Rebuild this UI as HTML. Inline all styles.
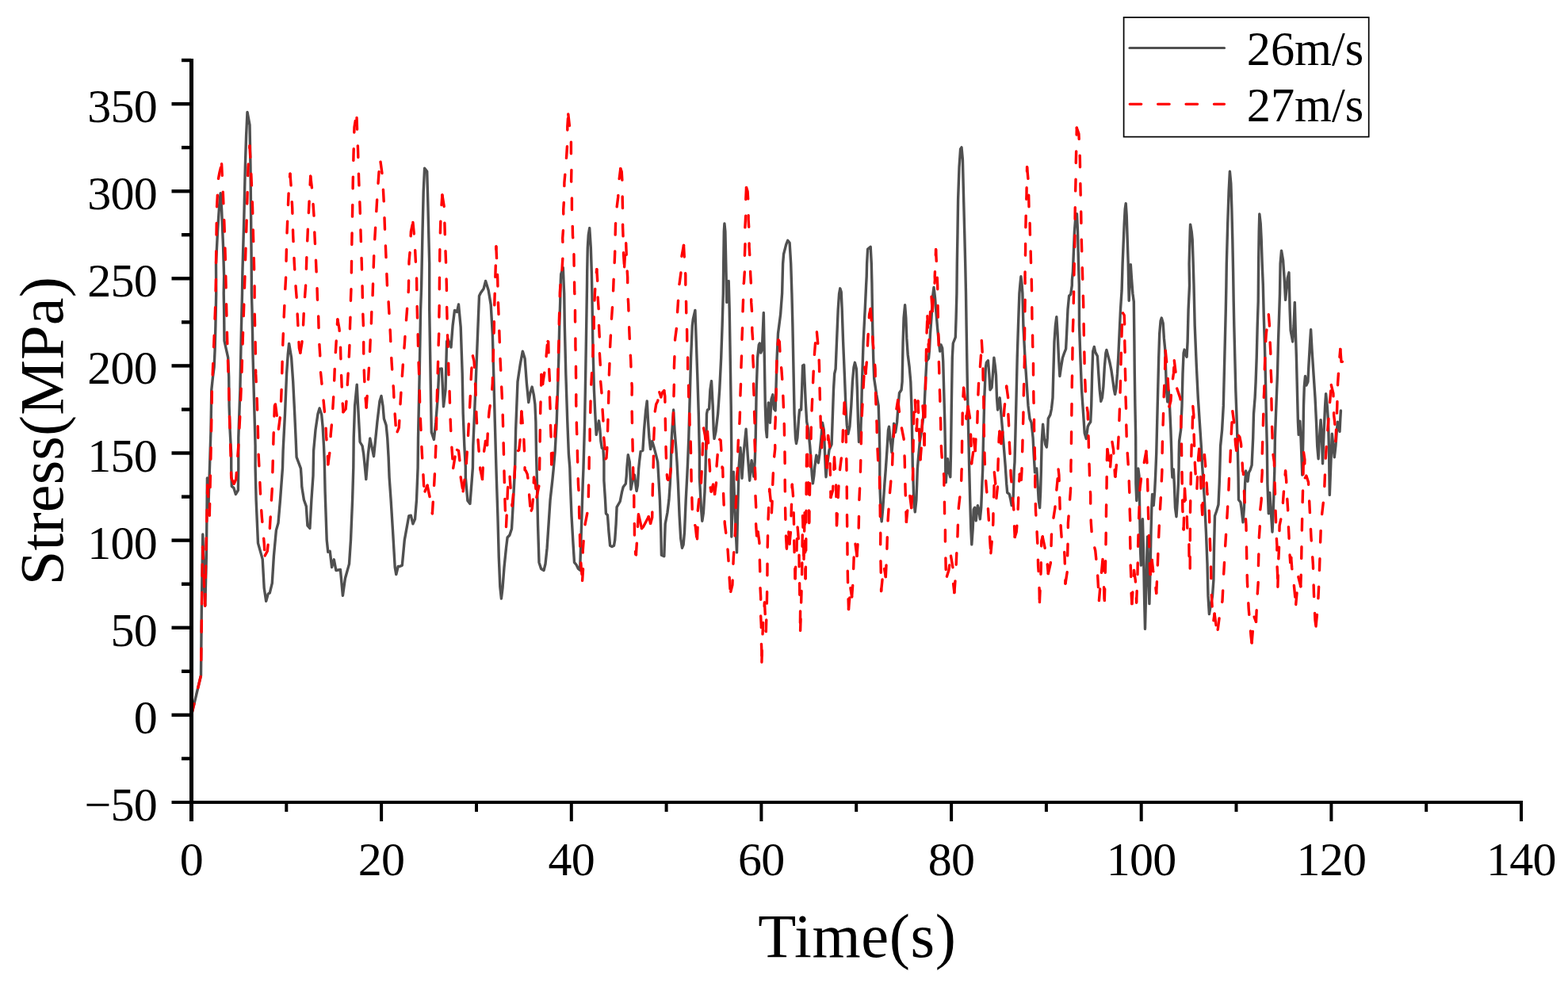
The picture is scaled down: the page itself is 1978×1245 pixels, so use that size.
<!DOCTYPE html>
<html lang="en"><head><meta charset="utf-8"><title>Stress vs Time</title>
<style>
html,body{margin:0;padding:0;background:#fff;}
body{width:1978px;height:1245px;overflow:hidden;}
svg{display:block;}
text{font-family:"Liberation Serif",serif;fill:#000;}
.tk{font-size:60px;letter-spacing:-0.8px;}
.ttl{font-size:78.6px;letter-spacing:0.6px;}
.ttl2{font-size:78.4px;letter-spacing:0.15px;}
.lg{font-size:60.3px;}
</style></head><body>
<svg width="1978" height="1245" viewBox="0 0 1978 1245">
<rect x="0" y="0" width="1978" height="1245" fill="#fff"/>
<polyline fill="none" stroke="#505050" stroke-width="3.4" stroke-linejoin="round" stroke-linecap="round" points="241.5,902.0 253.5,852.0 254.3,770.0 255.8,674.0 258.8,764.0 260.4,700.0 261.4,603.0 262.9,640.0 266.0,542.3 266.8,491.7 268.5,475.5 270.1,463.3 271.1,441.1 271.9,410.7 272.7,370.2 272.5,332.7 274.5,292.2 276.6,259.8 278.2,243.6 279.6,263.8 281.6,312.4 282.6,348.8 282.2,370.2 282.6,390.5 283.0,430.0 287.7,451.2 288.7,475.5 289.1,511.9 290.1,542.3 291.7,572.7 291.7,590.0 292.3,613.3 294.8,615.3 297.4,623.4 300.4,618.3 300.8,590.0 300.8,552.4 302.9,491.7 304.5,410.7 305.5,370.2 305.9,342.8 307.9,271.9 309.3,211.2 310.6,170.7 312.0,141.4 315.0,157.6 316.0,211.2 316.6,271.9 317.2,332.7 317.4,370.2 318.0,390.5 319.1,451.2 320.7,511.9 322.1,562.5 322.1,590.0 323.1,630.5 325.5,685.1 331.2,705.4 333.2,741.8 335.7,758.4 338.3,748.9 340.3,747.9 343.3,735.7 345.4,701.3 348.4,668.9 351.0,659.8 353.5,630.5 356.5,590.0 357.1,568.6 359.5,522.0 361.6,471.4 363.2,447.2 364.6,433.4 367.6,451.2 369.7,481.6 371.7,522.0 373.1,552.4 374.1,576.7 379.4,590.9 380.2,602.1 380.8,614.3 383.4,630.5 386.3,638.6 387.9,662.9 390.9,666.5 392.9,630.5 395.0,600.1 395.6,568.6 398.0,542.3 401.0,522.0 403.1,515.0 405.7,523.1 407.1,538.2 408.5,562.5 409.3,582.8 409.7,602.1 410.1,620.4 412.2,681.1 413.8,696.3 416.2,695.3 418.6,715.5 421.3,705.8 423.9,719.5 429.4,718.5 432.4,751.3 435.4,729.7 440.5,711.4 442.5,681.1 444.6,630.5 445.8,590.0 446.2,552.4 447.6,511.9 450.2,485.2 451.6,511.9 452.7,532.2 454.1,557.5 457.1,562.5 458.7,572.7 460.7,592.9 461.8,604.6 464.4,572.7 466.8,553.0 471.5,575.7 475.9,532.2 479.0,505.9 481.0,499.4 483.0,511.9 484.4,528.1 487.1,536.2 488.7,552.4 490.1,576.7 491.1,602.1 493.1,630.5 495.6,671.0 498.2,715.5 499.8,724.6 502.2,714.5 504.3,714.5 507.3,713.1 510.3,681.1 515.8,650.7 518.4,650.3 520.9,660.8 523.5,654.8 525.5,630.5 527.1,590.0 527.5,552.4 529.2,471.4 530.6,390.5 531.6,362.0 533.0,292.2 534.2,241.6 535.6,212.2 538.7,216.3 539.7,251.7 540.7,292.2 541.7,332.7 541.7,390.5 542.7,451.2 543.7,511.9 544.3,545.3 547.4,554.4 549.8,532.2 552.2,501.8 553.9,465.4 557.3,465.0 559.5,512.9 562.0,491.7 563.6,431.0 565.0,427.9 569.0,438.0 571.1,410.7 573.5,391.5 576.5,393.5 578.5,384.0 581.2,412.7 583.2,471.4 584.2,522.0 585.8,562.5 587.3,588.8 587.3,602.1 589.9,631.5 592.9,635.5 594.9,610.2 596.4,590.0 596.8,562.5 599.4,501.8 601.4,451.2 603.4,400.6 604.5,373.3 606.5,369.2 610.1,364.2 612.6,354.5 616.2,366.2 619.2,384.4 621.3,420.8 622.7,471.4 624.3,532.2 625.9,588.8 626.3,602.1 627.9,650.7 629.3,703.3 630.8,739.8 632.4,755.0 634.0,741.8 636.0,715.5 638.5,691.2 640.1,678.0 642.9,675.0 645.5,666.9 647.0,640.6 648.6,610.2 649.6,590.0 650.6,542.3 653.0,481.6 656.3,459.3 659.3,443.1 662.1,452.2 664.4,483.6 666.8,507.5 668.8,495.7 671.2,488.0 673.3,497.8 674.9,509.9 675.9,532.2 676.5,572.7 677.5,610.2 678.5,660.8 680.0,709.4 682.6,717.5 686.0,719.5 688.0,711.4 690.1,691.2 692.1,660.8 694.1,630.5 696.8,606.2 698.2,592.0 700.2,568.6 702.2,532.2 703.6,491.7 704.8,451.2 705.7,410.7 706.7,380.4 707.3,354.0 707.7,345.8 710.3,337.7 711.3,362.0 711.7,370.2 712.3,410.7 713.8,471.4 715.8,532.2 717.4,572.7 718.8,590.0 719.4,610.2 721.0,650.7 723.1,687.2 724.5,709.4 727.1,712.5 729.5,717.5 731.6,719.1 732.6,691.2 733.6,660.8 735.2,610.2 736.0,590.0 737.6,532.2 738.7,471.4 739.7,410.7 740.5,360.1 740.7,342.8 741.3,312.4 742.3,296.2 743.7,287.7 745.3,312.4 746.3,342.8 746.9,370.2 747.8,431.0 749.4,491.7 750.8,522.0 752.2,548.4 755.5,530.8 756.9,542.3 757.9,556.5 759.3,565.2 760.9,565.6 761.9,582.8 761.9,606.2 763.5,630.5 764.4,647.7 766.4,649.7 768.0,671.0 769.6,688.2 772.0,689.6 774.5,688.2 775.7,681.1 777.1,660.8 778.1,639.6 782.2,632.5 784.6,620.4 786.2,614.3 789.3,610.2 790.3,600.1 790.9,588.8 792.3,573.7 794.3,582.8 794.9,596.1 795.9,617.3 798.0,606.2 800.4,599.1 801.8,610.2 803.0,619.3 804.4,612.3 805.6,592.0 806.5,582.8 808.1,569.6 810.9,568.2 812.5,542.3 814.6,518.0 816.2,505.9 817.6,532.2 819.0,552.4 820.6,566.6 822.7,556.5 825.1,564.6 827.7,574.7 829.7,582.8 830.7,600.1 832.4,630.5 833.8,671.0 834.4,700.3 837.8,701.7 839.2,660.8 841.9,646.7 843.9,630.5 845.3,610.2 846.1,592.0 846.5,578.7 847.3,552.4 848.6,532.2 849.6,517.0 851.0,542.3 852.6,562.5 854.0,582.8 855.4,610.2 857.1,650.7 858.7,679.1 860.5,691.2 862.1,687.2 863.5,671.0 865.2,630.5 866.8,600.1 867.6,582.8 868.8,552.4 870.2,501.8 871.6,451.2 873.3,410.7 874.3,402.6 876.9,391.5 878.3,431.0 879.7,471.4 881.3,522.0 882.4,572.7 882.4,602.1 883.4,620.4 884.4,640.6 885.8,657.2 887.4,646.7 889.0,620.4 889.9,596.1 890.5,572.7 890.9,552.4 891.5,522.0 892.5,517.0 894.5,516.0 895.9,491.7 897.5,480.6 899.2,511.9 900.2,542.3 901.0,553.4 903.0,544.3 905.6,522.0 907.7,491.7 909.7,451.2 911.1,410.7 912.3,370.2 912.7,332.7 913.3,292.2 913.9,282.0 914.9,292.2 915.8,332.7 916.8,381.4 919.2,354.5 920.2,390.5 921.2,451.2 922.2,511.9 922.8,572.7 922.2,620.4 922.8,677.0 923.9,640.6 925.3,595.1 926.9,640.6 929.5,696.9 930.5,650.7 932.0,590.0 933.0,576.7 934.0,564.6 935.2,582.8 936.0,603.2 938.0,572.7 941.1,541.3 943.1,572.7 945.7,606.2 948.1,580.7 949.8,592.9 950.8,601.1 952.2,582.8 953.2,552.4 954.2,491.7 955.6,451.2 957.3,435.0 958.3,433.0 959.7,445.1 961.3,441.1 963.3,394.5 964.3,451.2 965.3,511.9 966.4,542.3 967.4,551.4 968.4,522.0 969.4,507.9 971.4,533.2 973.0,503.8 974.9,497.8 976.5,516.0 978.1,518.0 978.9,491.7 980.1,451.2 981.5,420.8 984.6,396.6 986.6,370.2 987.6,332.7 988.6,320.5 991.7,308.4 993.7,303.3 996.1,306.3 997.7,332.7 998.9,370.2 999.9,410.7 1001.1,471.4 1002.1,522.0 1003.5,552.4 1004.5,559.5 1005.9,552.4 1007.6,528.1 1008.6,517.0 1010.6,517.0 1011.6,491.7 1012.6,461.3 1014.2,460.3 1015.1,481.6 1016.3,507.9 1017.7,532.2 1019.7,542.3 1021.7,562.5 1023.2,582.8 1024.4,600.1 1025.4,609.8 1026.8,600.1 1027.8,588.8 1029.8,574.3 1032.3,583.8 1033.9,572.7 1035.9,552.4 1037.5,533.2 1039.3,542.3 1040.6,572.7 1041.4,592.0 1042.0,601.7 1043.0,590.0 1044.0,582.8 1046.0,567.6 1049.1,560.5 1050.1,532.2 1051.5,491.7 1052.7,471.4 1054.1,465.4 1055.5,431.0 1057.2,390.5 1058.6,370.2 1059.8,363.8 1061.2,368.2 1062.2,390.5 1063.6,431.0 1065.3,471.4 1066.9,511.9 1068.3,536.2 1069.9,547.3 1071.9,538.2 1073.8,511.9 1075.4,481.6 1077.0,463.3 1078.4,457.3 1080.4,465.4 1081.4,491.7 1082.5,532.2 1083.5,557.5 1085.5,552.4 1086.5,522.0 1087.5,481.6 1089.1,431.0 1091.2,390.5 1092.6,360.1 1093.2,348.8 1093.6,332.7 1094.6,314.4 1098.2,311.4 1099.3,332.7 1099.9,356.9 1100.1,370.2 1100.7,410.7 1101.7,451.2 1102.7,477.5 1105.7,497.8 1108.2,511.9 1109.2,542.3 1109.8,572.7 1109.8,600.1 1110.2,620.4 1111.4,650.7 1112.2,657.8 1113.8,640.6 1115.9,610.2 1117.3,592.0 1118.9,568.6 1120.5,542.3 1121.5,538.2 1122.9,552.4 1125.0,570.6 1126.6,552.4 1127.6,534.2 1129.6,545.3 1131.6,532.2 1133.1,511.9 1134.5,495.7 1137.1,491.7 1138.1,481.6 1139.1,431.0 1140.1,400.6 1141.6,384.8 1142.8,400.6 1143.8,426.9 1145.2,447.2 1147.2,463.3 1148.8,481.6 1149.9,511.9 1150.7,552.4 1151.3,588.8 1151.9,600.1 1152.7,630.5 1154.3,645.7 1155.9,630.5 1156.7,610.2 1157.3,592.0 1158.4,578.7 1160.4,556.5 1162.4,544.3 1164.0,532.2 1166.1,511.9 1167.5,481.6 1168.9,455.3 1171.5,452.2 1172.5,441.1 1173.5,420.8 1175.0,400.6 1176.6,374.3 1178.0,362.5 1179.6,376.3 1181.0,394.5 1182.7,414.8 1184.3,431.0 1185.7,443.1 1187.1,435.0 1188.7,439.1 1189.7,455.3 1190.7,491.7 1191.8,532.2 1192.6,572.7 1192.8,596.1 1193.2,608.6 1195.4,578.7 1197.2,596.1 1198.8,601.7 1199.5,572.7 1200.3,511.9 1201.3,451.2 1202.3,433.0 1205.3,425.3 1206.1,400.6 1206.9,370.2 1207.3,332.7 1208.0,292.2 1208.6,251.7 1210.0,211.2 1211.6,187.9 1213.0,185.9 1214.4,201.1 1215.4,241.6 1216.7,292.2 1217.7,332.7 1218.5,370.2 1219.1,410.7 1220.1,471.4 1221.1,522.0 1222.1,562.5 1222.7,592.0 1223.7,630.5 1224.8,666.9 1225.8,686.8 1227.2,666.9 1228.2,642.6 1229.6,640.2 1231.2,656.8 1233.3,637.6 1234.9,642.6 1236.3,654.8 1237.7,640.6 1238.9,610.2 1239.7,592.0 1240.5,552.4 1241.8,501.8 1243.4,463.3 1244.4,457.3 1246.4,454.8 1247.8,471.4 1249.0,491.7 1251.1,488.7 1252.5,471.4 1253.9,451.2 1255.5,463.3 1256.5,473.5 1257.5,501.8 1258.6,517.0 1260.0,507.9 1261.2,501.8 1262.6,518.0 1264.6,542.3 1266.7,568.6 1268.3,588.8 1269.7,610.2 1270.7,621.4 1273.3,623.4 1274.7,629.5 1276.2,637.6 1278.2,626.4 1279.2,594.0 1280.0,582.8 1280.8,552.4 1281.8,511.9 1283.2,451.2 1284.5,410.7 1285.9,370.2 1286.9,359.0 1287.9,348.8 1289.1,359.0 1289.9,370.2 1290.9,410.7 1293.0,451.2 1295.0,481.6 1297.0,511.9 1299.0,528.1 1301.1,533.2 1303.1,552.4 1304.1,572.7 1305.5,595.9 1307.7,590.9 1308.8,606.2 1310.2,630.5 1311.6,640.6 1312.6,620.4 1313.4,592.0 1314.2,556.5 1315.6,535.2 1317.3,552.4 1318.7,560.5 1320.3,564.1 1321.3,552.4 1322.3,528.1 1324.9,523.1 1326.4,516.0 1328.0,501.8 1328.8,471.4 1330.0,431.0 1331.4,410.7 1332.8,399.6 1334.1,420.8 1335.5,451.2 1336.9,474.5 1338.5,463.3 1340.5,451.2 1342.6,445.1 1344.6,440.1 1345.6,420.8 1347.0,390.5 1348.6,373.3 1350.7,371.3 1352.3,360.1 1352.4,352.9 1353.4,342.8 1355.4,292.2 1357.0,271.9 1358.5,269.9 1359.5,292.2 1360.5,332.7 1361.3,359.0 1361.5,410.7 1362.9,451.2 1364.5,491.7 1366.6,522.0 1368.2,546.3 1370.2,553.4 1372.2,538.2 1373.6,535.2 1375.7,532.2 1376.7,511.9 1377.7,471.4 1378.7,443.1 1380.3,437.4 1381.7,444.1 1384.4,449.2 1385.8,471.4 1387.2,491.7 1388.8,506.3 1390.4,501.8 1391.9,487.6 1393.3,463.3 1394.9,445.1 1395.9,441.5 1397.9,449.2 1400.0,457.3 1402.0,467.4 1404.0,481.6 1405.4,491.7 1406.6,497.4 1408.0,489.7 1409.5,471.4 1410.7,451.2 1412.1,420.8 1413.5,390.5 1415.1,366.2 1416.1,332.7 1418.2,282.0 1419.2,263.8 1420.2,256.7 1421.2,271.9 1422.2,302.3 1423.2,332.7 1423.8,362.0 1424.2,379.3 1425.3,352.9 1426.3,333.7 1427.3,348.8 1428.9,370.2 1430.3,380.4 1430.9,431.0 1431.3,471.4 1431.9,511.9 1432.7,552.4 1432.9,610.2 1433.8,631.5 1435.0,606.2 1435.8,590.9 1437.0,600.1 1437.8,650.7 1438.6,695.3 1439.4,713.1 1440.6,675.0 1441.4,654.8 1442.5,695.3 1443.5,751.9 1444.5,793.4 1445.5,751.9 1446.5,711.4 1447.5,677.0 1448.7,721.6 1449.9,761.6 1451.2,711.4 1452.0,671.0 1452.8,640.6 1453.6,623.4 1455.2,637.6 1456.6,620.4 1457.6,600.1 1458.7,572.7 1459.7,532.2 1460.7,491.7 1461.7,451.2 1462.7,420.8 1464.1,404.7 1465.3,401.0 1467.2,407.7 1468.4,426.9 1469.8,441.1 1470.8,471.4 1471.4,491.7 1472.8,506.9 1474.2,492.7 1475.5,511.9 1476.9,542.3 1477.9,572.7 1478.3,592.0 1478.9,602.1 1480.3,591.9 1481.3,610.2 1482.5,640.6 1484.0,651.7 1485.4,630.5 1486.4,610.2 1487.0,592.0 1487.2,572.7 1487.6,556.5 1489.6,542.3 1491.0,511.9 1492.0,471.4 1493.1,445.1 1494.1,441.1 1495.7,447.2 1497.1,450.2 1498.1,431.0 1499.1,390.5 1500.5,360.1 1500.1,332.7 1501.2,292.2 1501.6,283.1 1503.2,292.2 1504.2,302.3 1505.2,332.7 1506.0,359.0 1507.2,410.7 1509.3,461.3 1511.3,501.8 1513.3,532.2 1515.3,562.5 1516.7,588.8 1517.6,602.1 1519.4,630.5 1521.4,671.0 1523.0,711.4 1524.0,751.9 1525.4,774.6 1527.5,762.0 1529.5,751.9 1530.9,731.7 1531.5,691.2 1532.5,650.7 1534.6,644.7 1537.0,636.6 1538.2,610.2 1538.8,592.0 1539.6,562.5 1541.6,542.3 1543.3,511.9 1544.3,471.4 1545.3,431.0 1546.3,390.5 1546.9,360.1 1547.3,332.7 1548.7,282.0 1550.1,241.6 1551.4,216.3 1552.8,231.4 1553.8,261.8 1554.8,302.3 1555.6,342.8 1556.2,380.4 1556.8,410.7 1557.8,451.2 1558.8,491.7 1559.9,522.0 1560.9,552.4 1561.7,582.8 1562.1,602.1 1562.5,630.5 1564.9,633.5 1565.9,640.6 1568.0,658.8 1569.4,640.6 1570.6,610.2 1571.6,594.0 1574.0,607.2 1575.4,596.1 1577.1,593.0 1579.1,586.8 1580.7,552.4 1581.5,522.0 1583.1,501.8 1584.1,481.6 1585.2,451.2 1586.2,410.7 1587.2,380.4 1587.6,332.7 1588.2,292.2 1588.8,269.9 1590.2,282.0 1591.2,302.3 1592.2,332.7 1593.3,359.0 1594.3,400.6 1595.3,431.0 1596.3,471.4 1597.3,522.0 1598.3,562.5 1598.9,610.2 1600.3,647.7 1601.8,621.4 1603.0,640.6 1605.0,671.0 1606.0,650.7 1607.0,620.4 1607.8,594.0 1608.4,552.4 1609.9,511.9 1611.5,471.4 1612.5,431.0 1613.5,400.6 1614.5,370.2 1615.1,332.7 1616.5,316.1 1618.6,328.6 1620.0,348.8 1621.6,378.3 1624.2,350.9 1626.0,343.8 1627.1,390.5 1628.1,416.8 1630.7,431.0 1632.1,410.7 1633.3,381.4 1634.1,410.7 1635.4,451.2 1636.4,491.7 1637.4,532.2 1638.2,548.4 1639.8,531.2 1641.0,552.4 1641.8,572.7 1642.8,599.1 1643.9,552.4 1644.5,511.9 1645.3,487.6 1646.5,474.5 1647.9,486.0 1649.9,481.6 1650.9,461.3 1652.4,435.0 1653.6,415.8 1655.0,441.1 1657.0,471.4 1659.0,501.8 1660.5,532.2 1661.7,562.5 1663.1,578.7 1664.5,552.4 1666.1,529.7 1667.5,552.4 1668.5,584.8 1670.2,542.3 1671.6,511.9 1672.6,496.7 1674.2,511.9 1675.6,532.2 1676.6,572.7 1677.3,624.4 1679.3,572.7 1680.3,547.3 1681.9,562.5 1683.3,576.7 1684.9,562.5 1686.4,542.3 1687.4,532.2 1688.8,540.3 1690.0,544.3 1690.8,528.1 1691.4,518.0"/>
<g fill="none" stroke="#ff0000" stroke-width="3.4" stroke-linejoin="round" stroke-linecap="round">
<polyline points="241.5,902.0 253.5,852.0 254.5,770.0 255.6,690.0" stroke-dasharray="14.6 20.8"/>
<polyline points="255.6,690.0 258.6,764.0" stroke-dasharray="14.6 20.8"/>
<polyline points="258.6,764.0 260.1,685.0 261.8,612.0" stroke-dasharray="14.6 20.8"/>
<polyline points="261.8,612.0 264.3,650.0" stroke-dasharray="14.6 20.8"/>
<polyline points="264.3,650.0 265.3,605.0 266.4,552.4 267.4,491.7 269.5,441.1 271.5,390.5 272.5,350.0 272.5,332.7 273.5,261.8 275.5,225.4 277.0,217.3 279.6,206.8" stroke-dasharray="14.6 20.8"/>
<polyline points="279.6,206.8 281.6,249.7 283.0,284.1 284.2,322.5 285.1,362.0 285.7,390.5 286.7,431.0 287.7,461.3 288.7,491.7 289.7,532.2 290.7,562.5 291.7,602.0 292.7,605.2 295.2,610.2" stroke-dasharray="14.6 20.8"/>
<polyline points="295.2,610.2 297.8,604.2 298.8,590.0 300.8,562.5 302.9,522.0 304.9,471.4 306.5,420.8 307.9,380.4 308.9,350.0 310.0,312.4 311.0,282.0 312.0,247.6 313.0,211.2 315.0,183.9" stroke-dasharray="14.6 20.8"/>
<polyline points="315.0,183.9 317.0,223.3 318.5,259.8 319.5,298.2 320.5,334.7 321.1,362.0 321.1,390.5 322.1,431.0 322.7,471.4 324.1,501.8 325.1,532.2 326.1,572.7 327.6,602.0 328.2,616.3 329.2,635.5 330.2,650.7 331.8,668.9 333.2,685.1 334.2,700.9" stroke-dasharray="14.6 20.8"/>
<polyline points="334.2,700.9 337.3,695.3 338.3,685.1 340.3,666.9 341.3,650.7 342.3,632.5 343.3,616.3 343.8,598.1 345.0,552.4 346.4,511.9 347.4,509.9" stroke-dasharray="14.6 20.8"/>
<polyline points="347.4,509.9 351.4,541.3" stroke-dasharray="14.6 20.8"/>
<polyline points="351.4,541.3 353.9,522.0 355.5,481.6 356.5,441.1 357.9,406.7 359.5,370.2 360.6,350.0 361.6,304.3 363.0,269.9 364.6,231.4 366.0,219.3" stroke-dasharray="14.6 20.8"/>
<polyline points="366.0,219.3 367.2,235.5 368.7,261.8 369.7,296.2 371.3,332.7 373.1,362.0 374.1,374.3 375.7,406.7 377.4,439.1 378.8,445.1" stroke-dasharray="14.6 20.8"/>
<polyline points="378.8,445.1 380.8,433.0 382.2,418.8 383.4,390.5 385.9,356.1 386.9,322.5 388.5,286.1 390.3,249.7 391.7,222.3" stroke-dasharray="14.6 20.8"/>
<polyline points="391.7,222.3 393.5,237.5 395.0,256.7 396.0,271.9 397.0,298.2 398.4,326.6 400.0,362.0 400.4,376.3 401.6,396.6 402.0,411.7 402.7,431.0 403.7,447.2 404.1,465.4 405.7,481.6 407.7,500.8 409.1,516.0 410.8,534.2 411.6,550.4 413.2,570.6 413.8,585.8" stroke-dasharray="14.6 20.8"/>
<polyline points="413.8,585.8 416.2,568.6 417.2,548.4 418.6,533.2 419.9,514.0 420.9,497.8 421.7,479.5 422.3,463.3 423.3,445.1 424.3,428.9 425.3,410.7 425.9,403.0" stroke-dasharray="14.6 20.8"/>
<polyline points="425.9,403.0 428.0,414.8 429.4,433.0 429.8,449.2 430.4,468.4 431.0,483.6 431.8,502.8 433.0,519.6" stroke-dasharray="14.6 20.8"/>
<polyline points="433.0,519.6 436.1,516.0 437.5,500.2 438.5,481.6 439.5,465.4 440.5,446.1 441.1,431.0 441.5,411.7 442.1,396.6 442.5,376.3 443.1,361.1 443.9,302.3 444.6,267.9 445.2,231.4 446.0,195.0 447.0,160.6 448.6,150.5 450.0,148.5" stroke-dasharray="14.6 20.8"/>
<polyline points="450.0,148.5 450.6,164.7 451.6,191.0 452.7,227.4 454.1,261.8 455.1,296.2 456.3,332.7 457.1,362.0 457.3,373.3 457.7,392.5 458.3,408.7 458.7,426.9 458.7,444.1 459.1,462.3 459.7,478.5 460.7,497.8 462.2,514.0" stroke-dasharray="14.6 20.8"/>
<polyline points="462.2,514.0 463.2,498.8 464.4,482.6 465.4,464.4 466.4,448.2 467.2,428.9 468.2,413.8 468.8,393.5 469.9,378.3 470.5,359.1 471.9,316.5 473.9,282.0 475.9,247.6 478.0,217.3 480.0,204.1" stroke-dasharray="14.6 20.8"/>
<polyline points="480.0,204.1 482.6,223.3 484.4,257.8 485.6,292.2 487.1,326.6 488.5,362.0 489.5,369.2 490.5,388.5 491.5,403.6 492.5,422.9 493.1,439.1 494.1,457.3 495.2,473.9 496.6,492.7 497.2,508.9 498.6,527.7 499.6,543.3 501.2,544.7" stroke-dasharray="14.6 20.8"/>
<polyline points="501.2,544.7 503.3,539.3 504.3,523.1 505.3,504.8 506.3,488.7 507.7,469.4 508.7,453.6 510.3,434.6 511.3,418.8 512.8,399.6 514.0,384.4 515.4,365.2 516.0,329.6 517.4,314.4 518.4,292.2 520.9,280.4" stroke-dasharray="14.6 20.8"/>
<polyline points="520.9,280.4 522.5,297.2 523.5,312.4 524.5,332.7 525.5,347.8 526.1,383.4 526.5,401.6 527.1,417.8 527.5,437.0 527.9,453.2 528.6,471.4 529.2,487.6 529.6,507.9 530.2,524.1 531.0,542.3 531.6,558.5 532.6,576.7 533.6,591.9 534.6,612.3 536.0,620.0" stroke-dasharray="14.6 20.8"/>
<polyline points="536.0,620.0 539.1,612.3"/>
<polyline points="539.1,612.3 542.7,629.5 545.4,647.7" stroke-dasharray="14.6 20.8"/>
<polyline points="545.4,647.7 546.8,624.4 547.8,609.2 548.8,590.0 549.4,573.7 550.2,554.4 550.8,520.0 551.2,503.8 551.8,484.6 552.2,469.4 552.8,449.2 553.2,434.0 553.9,414.8 553.9,398.6 554.3,380.4 554.3,364.2 554.9,310.4 555.9,276.0 556.9,259.8 557.9,246.0" stroke-dasharray="14.6 20.8"/>
<polyline points="557.9,246.0 560.3,260.8 560.9,282.0 561.3,296.2 562.0,316.5 562.6,332.7 563.4,362.0 563.4,366.2 563.6,385.4 564.0,400.6 564.4,419.8 565.0,436.0 565.6,454.2 566.0,471.4 567.0,490.7 567.4,505.9 568.0,525.1 568.6,540.3 569.6,560.5 570.7,575.7 571.7,590.5" stroke-dasharray="14.6 20.8"/>
<polyline points="571.7,590.5 574.1,575.7 576.5,567.6" stroke-dasharray="14.6 20.8"/>
<polyline points="576.5,567.6 578.5,568.6 580.2,583.8 581.2,602.1 583.8,618.3 584.2,619.8" stroke-dasharray="14.6 20.8"/>
<polyline points="584.2,619.8 586.2,604.2 587.9,590.0 589.3,569.6 590.3,554.4 591.3,534.2 592.3,519.0 593.3,499.8 593.9,483.6 594.9,465.4 596.0,449.2 596.4,448.8" stroke-dasharray="14.6 20.8"/>
<polyline points="596.4,448.8 598.0,455.3 599.0,470.4 599.8,489.7 600.4,504.8 601.0,524.1 601.8,539.3 603.4,559.5 604.5,574.7 605.9,592.9 606.1,593.0 608.5,604.6" stroke-dasharray="14.6 20.8"/>
<polyline points="608.5,604.6 610.1,572.7 612.5,556.5" stroke-dasharray="14.6 20.8"/>
<polyline points="612.5,556.5 614.6,561.5"/>
<polyline points="614.6,561.5 615.8,533.2 617.2,518.0 620.2,498.8 621.3,483.6 621.7,463.3 622.3,449.2 622.7,428.9 623.3,414.8 623.5,393.5 623.9,379.3 624.5,360.1 625.3,334.7 625.9,311.0" stroke-dasharray="14.6 20.8"/>
<polyline points="625.9,311.0 626.9,334.7 627.7,350.9 628.3,378.3 629.6,410.7 630.8,447.2 632.4,481.6 634.0,516.0 635.0,552.4 635.8,586.8 636.6,620.4 637.6,650.7 638.5,664.5" stroke-dasharray="14.6 20.8"/>
<polyline points="638.5,664.5 639.5,642.6 640.5,616.3 643.1,601.1" stroke-dasharray="14.6 20.8"/>
<polyline points="643.1,601.1 644.5,622.4 646.1,638.0" stroke-dasharray="14.6 20.8"/>
<polyline points="646.1,638.0 647.8,620.4 648.8,607.2 649.8,582.8 650.6,571.6 652.2,569.6 654.7,567.6 656.3,553.4 657.3,532.2 657.9,519.0" stroke-dasharray="14.6 20.8"/>
<polyline points="657.9,519.0 659.1,532.2 660.3,539.3 661.1,560.5 661.7,573.7 662.1,592.9 663.2,593.6 665.2,598.1 666.4,606.2 667.8,626.4 668.8,638.6 670.2,644.2" stroke-dasharray="14.6 20.8"/>
<polyline points="670.2,644.2 671.2,641.6 672.5,628.5 673.5,602.1" stroke-dasharray="14.6 20.8"/>
<polyline points="673.5,602.1 675.3,609.2 676.9,627.4" stroke-dasharray="14.6 20.8"/>
<polyline points="676.9,627.4 680.0,612.3 680.6,592.0 681.2,552.4 681.8,515.0 683.0,472.5" stroke-dasharray="14.6 20.8"/>
<polyline points="683.0,472.5 684.6,484.6"/>
<polyline points="684.6,484.6 687.0,468.4 689.1,449.2 690.5,433.0 691.1,430.6" stroke-dasharray="14.6 20.8"/>
<polyline points="691.1,430.6 691.7,431.0 692.1,447.2 692.7,466.4 693.5,481.6 693.5,500.8 694.1,516.0 694.5,536.2 695.1,551.4 695.5,572.7 695.7,585.8" stroke-dasharray="14.6 20.8"/>
<polyline points="695.7,585.8 697.2,572.7 699.2,562.5 700.2,544.3 701.2,528.1 702.2,509.9 703.2,492.7 703.8,473.5 704.2,458.3 704.6,439.1 705.3,422.9 705.3,404.7 705.9,388.5 706.3,369.2 707.3,354.0 708.3,354.9 709.3,334.7 710.3,318.5 709.7,300.3 710.9,284.1 710.7,264.8 711.7,248.7 711.9,230.4 713.3,214.2 714.8,195.0 715.8,178.8 715.8,159.6 716.8,144.0" stroke-dasharray="14.6 20.8"/>
<polyline points="716.8,144.0 718.4,158.6 720.4,173.8 720.4,193.0 721.0,209.2 720.6,227.4 721.4,243.6 721.4,262.8 722.1,278.0 722.5,297.2 723.9,313.4 724.1,332.7 724.5,348.8 724.7,367.2 725.5,382.4 725.5,402.6 725.9,417.8 725.9,437.0 726.5,452.2 726.5,471.4 726.9,487.6 726.7,506.9 727.1,522.0 727.5,541.3 728.1,556.5 728.5,576.7 728.9,593.0 729.5,611.3 730.6,627.4 730.6,646.7 731.2,661.9 731.6,681.1 732.0,697.3 733.2,715.5 734.6,732.3" stroke-dasharray="14.6 20.8"/>
<polyline points="734.6,732.3 736.0,711.4 735.2,695.3 736.6,676.0 738.2,660.8 741.7,642.6 742.3,627.4 742.7,607.2 743.1,592.0 743.3,572.7 744.1,556.5 744.1,537.2 744.7,522.0 745.1,502.8 745.7,487.6 746.7,468.4 747.8,452.2 748.4,433.0 749.2,417.8 749.2,398.6 749.8,382.4 750.8,363.2 751.4,352.9 752.8,339.7" stroke-dasharray="14.6 20.8"/>
<polyline points="752.8,339.7 753.8,355.9 754.2,375.3 755.2,390.5 755.5,409.7 756.3,425.9 756.3,444.1 757.3,460.3 757.5,479.5 758.9,494.7 759.9,514.0 760.9,530.1 761.5,549.4 762.9,564.6 764.0,578.7" stroke-dasharray="14.6 20.8"/>
<polyline points="764.0,578.7 765.0,577.7 766.0,562.5 766.6,542.3 767.0,527.1 767.6,507.9 768.0,492.7 768.4,472.5 769.0,457.3 769.6,438.0 770.4,422.9 771.4,403.6 772.5,387.4 773.5,369.2 774.1,353.0 774.5,348.8 775.1,333.7 775.7,318.5 776.1,299.3 776.5,283.1 777.7,264.8 779.7,248.7 780.8,228.4 782.8,212.8" stroke-dasharray="14.6 20.8"/>
<polyline points="782.8,212.8 784.2,216.3 785.2,232.5 785.2,250.7 785.6,267.9 785.6,286.1 786.2,302.3 786.6,321.5 787.6,336.7" stroke-dasharray="14.6 20.8"/>
<polyline points="787.6,336.7 788.4,322.5 789.7,306.7" stroke-dasharray="14.6 20.8"/>
<polyline points="789.7,306.7 790.7,333.7 791.7,349.9 791.7,368.2 792.7,383.4 793.3,403.6 793.9,418.8 794.7,438.0 795.7,454.2 796.3,473.5 797.3,488.7 796.9,508.9 797.3,524.1 797.6,543.3 798.0,558.5 798.4,577.7 798.8,596.1 799.0,610.2 799.8,627.4 799.8,646.7 800.4,662.9 800.4,682.1 801.8,699.3 802.4,699.7" stroke-dasharray="14.6 20.8"/>
<polyline points="802.4,699.7 803.4,683.5 804.4,664.9 805.4,648.7" stroke-dasharray="14.6 20.8"/>
<polyline points="805.4,648.7 806.9,654.8 809.5,666.5"/>
<polyline points="809.5,666.5 811.5,664.5 818.2,651.7"/>
<polyline points="818.2,651.7 820.6,660.2"/>
<polyline points="820.6,660.2 822.7,652.7 823.1,632.5 823.3,617.3 823.9,598.1 824.3,581.8 824.7,554.4 826.1,520.0 827.7,509.9 829.7,505.9 831.8,494.7" stroke-dasharray="14.6 20.8"/>
<polyline points="831.8,494.7 833.8,500.8"/>
<polyline points="833.8,500.8 835.8,494.7 837.8,492.7"/>
<polyline points="837.8,492.7 838.8,499.8 839.2,526.1 839.9,560.5 840.9,594.9 841.9,604.2 842.9,605.2" stroke-dasharray="14.6 20.8"/>
<polyline points="842.9,605.2 844.9,602.1 846.9,586.8 848.0,567.6 849.0,552.4 849.0,532.2 849.6,518.0 850.0,497.8 850.4,482.6 850.4,463.3 851.0,447.2 851.6,427.9 853.6,412.7 854.6,393.5 855.6,378.3 856.7,359.1 857.1,358.0 859.1,342.8 859.7,324.6 862.5,309.4" stroke-dasharray="14.6 20.8"/>
<polyline points="862.5,309.4 863.7,331.6 864.8,346.8 864.8,366.2 865.6,382.4 865.8,401.6 866.6,416.8 866.8,436.0 867.6,451.2 867.6,471.4 868.6,486.6 868.8,505.9 869.8,522.0 870.2,540.3 871.2,556.5 871.8,582.8 872.2,610.2 872.8,626.4 873.3,644.7 874.9,657.8 877.3,663.9 878.9,679.1 879.5,679.7" stroke-dasharray="14.6 20.8"/>
<polyline points="879.5,679.7 880.3,658.8 880.3,643.6 882.4,623.4 884.4,610.2 885.4,590.0 885.8,582.8 887.0,547.3 887.6,539.9" stroke-dasharray="14.6 20.8"/>
<polyline points="887.6,539.9 889.4,549.4 890.9,566.0" stroke-dasharray="14.6 20.8"/>
<polyline points="890.9,566.0 892.5,544.3" stroke-dasharray="14.6 20.8"/>
<polyline points="892.5,544.3 893.5,558.5 894.5,576.7 895.5,591.9 895.5,611.3 897.1,620.0" stroke-dasharray="14.6 20.8"/>
<polyline points="897.1,620.0 899.6,611.3"/>
<polyline points="899.6,611.3 901.6,623.4"/>
<polyline points="901.6,623.4 903.6,608.2 904.0,588.8 905.2,573.7 907.7,554.4" stroke-dasharray="14.6 20.8"/>
<polyline points="907.7,554.4 909.1,555.4 910.1,571.6 911.1,590.9 911.7,590.0 912.1,605.2 912.7,625.4 913.3,640.6 914.3,660.8 916.2,676.0 918.2,695.3 919.2,710.4 920.2,729.7 921.2,745.9 921.8,746.3" stroke-dasharray="14.6 20.8"/>
<polyline points="921.8,746.3 923.9,737.8 924.5,722.6 925.3,703.3 926.3,689.2 927.5,671.0 927.9,655.8 928.3,635.5 929.3,620.4 929.5,601.1 930.3,592.9 930.9,566.6 931.5,551.4 933.0,532.2 933.6,516.0 934.0,496.7 934.6,481.6 935.0,461.3 935.6,446.1 936.0,426.9 936.6,411.7 937.0,392.5 937.6,377.3 938.0,358.1 938.4,356.9 939.4,341.8 939.4,322.5 940.0,307.3 939.8,288.1 940.7,271.9 940.7,252.7 941.5,236.5" stroke-dasharray="14.6 20.8"/>
<polyline points="941.5,236.5 943.1,241.6 944.1,257.8 944.1,277.0 945.1,292.2 945.1,311.4 946.1,327.6 946.7,345.8 947.3,356.1 947.7,381.4 948.8,396.6 948.8,416.8 949.8,431.0 949.8,451.2 950.6,466.4 950.6,486.6 951.2,501.8 951.6,521.0 952.2,536.2 952.0,556.5 952.6,571.6 952.4,590.9 952.8,598.1 953.0,625.4 953.8,641.6 953.6,660.8 954.6,676.0" stroke-dasharray="14.6 20.8"/>
<polyline points="954.6,676.0 956.2,671.0"/>
<polyline points="956.2,671.0 957.9,684.1 958.3,703.3 958.7,719.5 958.9,738.8 959.7,754.0 959.5,773.2 960.3,789.4 960.3,808.6 960.9,822.8 960.9,835.3" stroke-dasharray="14.6 20.8"/>
<polyline points="960.9,835.3 961.6,809.6 962.8,782.3 964.5,760.0" stroke-dasharray="14.6 20.8"/>
<polyline points="964.5,760.0 966.3,796.5" stroke-dasharray="14.6 20.8"/>
<polyline points="966.3,796.5 967.3,764.1 967.9,731.7 968.1,695.3 968.9,659.8 969.5,644.7 970.7,617.3" stroke-dasharray="14.6 20.8"/>
<polyline points="970.7,617.3 972.1,630.5 973.4,646.7" stroke-dasharray="14.6 20.8"/>
<polyline points="973.4,646.7 974.0,635.5 974.6,614.3 975.2,600.1 976.2,580.7 977.8,565.6 977.4,546.3 978.2,530.1 978.6,509.9 979.2,494.7 979.4,473.5 979.8,459.3 980.2,441.1 981.9,428.9" stroke-dasharray="14.6 20.8"/>
<polyline points="981.9,428.9 983.3,431.0 984.3,451.2 985.9,466.4 987.3,486.6 987.9,500.8 988.7,522.0 989.3,536.2 989.6,556.5 990.0,571.6 990.2,590.9 990.2,606.2 990.6,640.6 991.2,671.0 992.4,692.2" stroke-dasharray="14.6 20.8"/>
<polyline points="992.4,692.2 993.4,677.0 994.8,671.0" stroke-dasharray="14.6 20.8"/>
<polyline points="994.8,671.0 996.0,686.1"/>
<polyline points="996.0,686.1 997.4,671.0 998.3,642.6 999.3,611.3" stroke-dasharray="14.6 20.8"/>
<polyline points="999.3,611.3 1000.5,625.4 1001.1,644.7 1001.5,659.8 1001.7,680.1 1002.1,695.3 1002.7,714.5 1003.1,729.7" stroke-dasharray="14.6 20.8"/>
<polyline points="1003.1,729.7 1003.9,709.4 1004.9,700.3 1005.3,680.1 1006.1,664.9" stroke-dasharray="14.6 20.8"/>
<polyline points="1006.1,664.9 1007.6,683.1 1008.0,699.3 1008.2,717.5 1008.6,733.7 1008.8,752.9 1009.6,769.1 1009.4,787.3 1009.6,795.4" stroke-dasharray="14.6 20.8"/>
<polyline points="1009.6,795.4 1010.6,762.0 1011.6,725.6 1012.6,650.7" stroke-dasharray="14.6 20.8"/>
<polyline points="1012.6,650.7 1014.0,705.4" stroke-dasharray="14.6 20.8"/>
<polyline points="1014.0,705.4 1015.1,646.7" stroke-dasharray="14.6 20.8"/>
<polyline points="1015.1,646.7 1016.1,729.7" stroke-dasharray="14.6 20.8"/>
<polyline points="1016.1,729.7 1016.7,699.3 1017.3,592.9 1018.3,537.8" stroke-dasharray="14.6 20.8"/>
<polyline points="1018.3,537.8 1018.9,590.9 1019.7,608.2 1020.7,659.6" stroke-dasharray="14.6 20.8"/>
<polyline points="1020.7,659.6 1021.7,610.2 1022.7,572.7 1023.4,532.2 1025.2,491.7 1026.8,455.3 1028.8,428.9 1030.4,418.8" stroke-dasharray="14.6 20.8"/>
<polyline points="1030.4,418.8 1032.9,446.1 1033.5,461.3 1034.1,491.7 1035.1,528.1 1036.5,564.6" stroke-dasharray="14.6 20.8"/>
<polyline points="1036.5,564.6 1038.1,540.3" stroke-dasharray="14.6 20.8"/>
<polyline points="1038.1,540.3 1040.4,555.4 1042.0,572.7 1043.2,589.9" stroke-dasharray="14.6 20.8"/>
<polyline points="1043.2,589.9 1044.6,549.4" stroke-dasharray="14.6 20.8"/>
<polyline points="1044.6,549.4 1046.6,562.5 1047.4,600.0 1048.0,627.4" stroke-dasharray="14.6 20.8"/>
<polyline points="1048.0,627.4 1050.7,618.3 1052.5,576.7" stroke-dasharray="14.6 20.8"/>
<polyline points="1052.5,576.7 1053.5,592.9 1054.7,612.3 1055.5,662.9" stroke-dasharray="14.6 20.8"/>
<polyline points="1055.5,662.9 1057.2,629.5 1058.8,595.1 1059.2,594.9 1062.6,567.6 1063.8,532.2 1065.3,507.9" stroke-dasharray="14.6 20.8"/>
<polyline points="1065.3,507.9 1066.9,532.2 1067.9,585.8 1068.3,620.4 1068.5,650.7 1068.9,682.1 1069.1,711.4 1069.7,741.8 1070.5,768.5" stroke-dasharray="14.6 20.8"/>
<polyline points="1070.5,768.5 1072.9,741.8" stroke-dasharray="14.6 20.8"/>
<polyline points="1072.9,741.8 1074.6,752.9"/>
<polyline points="1074.6,752.9 1076.2,731.7 1077.4,695.3 1079.0,686.1" stroke-dasharray="14.6 20.8"/>
<polyline points="1079.0,686.1 1081.0,701.3"/>
<polyline points="1081.0,701.3 1083.1,671.0 1083.9,630.5 1085.3,600.1 1086.1,567.6 1086.9,532.2 1088.5,498.8 1090.6,463.3" stroke-dasharray="14.6 20.8"/>
<polyline points="1090.6,463.3 1092.0,471.4"/>
<polyline points="1092.0,471.4 1093.6,453.2 1095.0,424.9 1096.6,396.6 1098.2,389.5" stroke-dasharray="14.6 20.8"/>
<polyline points="1098.2,389.5 1100.1,414.8 1101.1,431.0 1102.7,449.2 1104.1,465.4 1104.3,484.6 1104.7,500.8 1105.3,520.0 1106.1,535.2 1106.3,554.4 1107.2,570.6 1108.0,588.8 1109.4,596.1 1109.8,624.4 1110.2,639.6 1110.4,658.8 1110.8,675.0 1110.6,694.2 1111.0,709.4 1111.4,728.7 1111.6,745.5" stroke-dasharray="14.6 20.8"/>
<polyline points="1111.6,745.5 1113.4,727.6 1115.5,717.5" stroke-dasharray="14.6 20.8"/>
<polyline points="1115.5,717.5 1117.3,727.6"/>
<polyline points="1117.3,727.6 1118.7,699.3 1119.7,662.9 1121.9,628.5 1124.8,596.1 1125.4,592.9 1126.6,558.5 1129.6,524.1 1132.7,504.8" stroke-dasharray="14.6 20.8"/>
<polyline points="1132.7,504.8 1134.5,520.0 1137.1,538.2 1140.1,553.4 1141.2,578.7 1142.0,614.3 1142.8,641.6 1143.4,658.4" stroke-dasharray="14.6 20.8"/>
<polyline points="1143.4,658.4 1145.2,638.6 1147.8,625.4" stroke-dasharray="14.6 20.8"/>
<polyline points="1147.8,625.4 1149.7,640.6"/>
<polyline points="1149.7,640.6 1150.9,622.4 1151.7,593.0 1152.1,559.5 1152.9,518.0 1154.3,504.8" stroke-dasharray="14.6 20.8"/>
<polyline points="1154.3,504.8 1156.3,543.3" stroke-dasharray="14.6 20.8"/>
<polyline points="1156.3,543.3 1158.0,505.9" stroke-dasharray="14.6 20.8"/>
<polyline points="1158.0,505.9 1159.6,543.3 1161.0,579.7" stroke-dasharray="14.6 20.8"/>
<polyline points="1161.0,579.7 1162.4,562.5 1164.0,511.9" stroke-dasharray="14.6 20.8"/>
<polyline points="1164.0,511.9 1164.8,522.0 1166.1,561.5" stroke-dasharray="14.6 20.8"/>
<polyline points="1166.1,561.5 1166.9,526.1 1167.3,497.8 1168.1,463.3 1168.7,428.9 1169.9,398.6" stroke-dasharray="14.6 20.8"/>
<polyline points="1169.9,398.6 1171.5,443.1" stroke-dasharray="14.6 20.8"/>
<polyline points="1171.5,443.1 1172.5,412.7 1174.1,384.4 1175.0,374.3" stroke-dasharray="14.6 20.8"/>
<polyline points="1175.0,374.3 1176.2,392.5"/>
<polyline points="1176.2,392.5 1177.6,374.3 1179.4,353.0 1179.2,348.8 1180.6,314.8" stroke-dasharray="14.6 20.8"/>
<polyline points="1180.6,314.8 1182.0,344.8 1182.7,360.0 1182.7,360.1 1182.9,380.4 1183.3,395.5 1183.5,414.8 1184.1,430.0 1184.1,449.2 1184.7,465.4 1185.1,483.6 1185.7,499.8 1186.1,519.0 1186.7,534.2 1186.9,553.4 1187.7,569.6 1188.7,583.8 1190.3,594.9 1190.9,602.1 1190.9,614.3 1191.4,629.5 1191.6,648.7 1192.4,664.9 1192.4,684.1 1192.8,699.3 1193.2,718.5 1194.4,727.2" stroke-dasharray="14.6 20.8"/>
<polyline points="1194.4,727.2 1196.8,719.5 1199.5,701.3" stroke-dasharray="14.6 20.8"/>
<polyline points="1199.5,701.3 1201.9,715.5 1202.3,733.7 1203.9,747.5" stroke-dasharray="14.6 20.8"/>
<polyline points="1203.9,747.5 1205.5,725.6 1206.3,709.4 1207.1,690.2 1208.0,675.0 1208.6,654.8 1209.4,639.6 1211.0,625.4 1212.6,611.3 1213.0,594.0 1213.2,591.9 1213.4,576.7 1213.6,557.5 1214.0,542.3 1214.2,522.0 1214.6,506.9 1215.6,489.3" stroke-dasharray="14.6 20.8"/>
<polyline points="1215.6,489.3 1217.5,504.8 1219.1,528.1" stroke-dasharray="14.6 20.8"/>
<polyline points="1219.1,528.1 1221.1,512.9"/>
<polyline points="1221.1,512.9 1223.7,528.1 1224.8,554.4 1225.6,584.8" stroke-dasharray="14.6 20.8"/>
<polyline points="1225.6,584.8 1227.6,570.6 1228.2,553.4" stroke-dasharray="14.6 20.8"/>
<polyline points="1228.2,553.4 1230.2,568.6"/>
<polyline points="1230.2,568.6 1231.2,549.4 1232.8,534.2 1233.5,507.9 1234.7,479.5 1236.3,464.4 1237.7,445.1 1238.3,429.5" stroke-dasharray="14.6 20.8"/>
<polyline points="1238.3,429.5 1239.5,449.2 1239.9,457.3 1240.1,476.5 1240.7,492.7 1240.9,510.9 1241.3,527.1 1241.3,546.3 1241.8,562.5 1242.2,581.8 1243.0,598.1 1244.4,616.3 1245.8,631.5 1247.0,650.7 1248.0,665.9 1249.0,685.1 1249.9,697.7" stroke-dasharray="14.6 20.8"/>
<polyline points="1249.9,697.7 1252.1,673.0 1252.9,657.8 1253.1,637.6 1253.9,622.4 1254.3,595.7" stroke-dasharray="14.6 20.8"/>
<polyline points="1254.3,595.7 1255.9,611.3 1256.9,628.5" stroke-dasharray="14.6 20.8"/>
<polyline points="1256.9,628.5 1258.4,614.3 1259.0,586.8 1260.2,552.4 1261.0,544.3" stroke-dasharray="14.6 20.8"/>
<polyline points="1261.0,544.3 1263.0,559.5"/>
<polyline points="1263.0,559.5 1265.0,543.3 1266.9,516.0 1267.7,507.9 1269.7,487.2" stroke-dasharray="14.6 20.8"/>
<polyline points="1269.7,487.2 1271.7,501.8 1271.9,523.1 1272.7,538.2 1273.3,557.5 1274.1,572.7 1274.9,591.9 1275.2,600.1 1276.2,610.2 1277.4,626.4 1278.8,642.6 1279.4,660.8 1280.2,677.4" stroke-dasharray="14.6 20.8"/>
<polyline points="1280.2,677.4 1282.2,671.0 1283.5,654.8 1284.5,635.5 1284.9,620.4 1286.3,598.1" stroke-dasharray="14.6 20.8"/>
<polyline points="1286.3,598.1 1288.3,605.2"/>
<polyline points="1288.3,605.2 1288.9,594.9 1289.5,575.7 1289.9,560.5 1290.3,541.3 1290.9,526.1 1291.1,506.9 1291.5,490.7 1292.0,471.4 1292.4,455.3 1292.4,436.0 1292.6,419.8 1292.8,400.6 1293.0,385.4 1293.4,366.2 1293.0,350.9 1293.2,331.6 1293.6,316.5 1293.6,296.2 1294.0,281.0 1294.4,261.8 1295.0,245.6 1295.2,227.4 1295.6,210.8" stroke-dasharray="14.6 20.8"/>
<polyline points="1295.6,210.8 1297.0,226.4 1297.6,241.6 1298.0,260.8 1299.0,277.0 1299.4,295.2 1300.0,311.4 1300.5,330.6 1301.1,345.8 1301.5,365.2 1301.7,380.4 1301.9,400.6 1302.5,415.8 1302.7,435.0 1303.5,451.2 1303.5,469.4 1303.7,485.6 1303.9,503.8 1304.5,520.0 1304.5,539.3 1305.1,554.4 1305.3,572.7 1306.1,588.8 1305.7,608.2 1306.1,624.4 1306.5,644.7 1307.5,659.8 1308.5,679.1 1309.2,695.3 1309.6,713.5 1310.8,729.7 1311.2,748.9 1311.4,759.6" stroke-dasharray="14.6 20.8"/>
<polyline points="1311.4,759.6 1312.6,732.7 1313.2,717.5 1313.4,698.3 1313.8,682.1 1315.2,677.0" stroke-dasharray="14.6 20.8"/>
<polyline points="1315.2,677.0 1317.3,687.2 1320.3,701.3 1322.3,723.6" stroke-dasharray="14.6 20.8"/>
<polyline points="1322.3,723.6 1325.3,710.4 1326.0,691.2 1326.4,675.0 1328.4,656.8 1330.8,641.6 1332.4,622.4 1333.9,607.2 1335.1,592.0" stroke-dasharray="14.6 20.8"/>
<polyline points="1335.1,592.0 1335.9,599.1 1336.7,626.4 1337.5,653.8 1338.5,668.9 1339.7,685.1 1342.1,686.1 1343.0,701.3 1343.6,719.5 1344.0,736.1" stroke-dasharray="14.6 20.8"/>
<polyline points="1344.0,736.1 1346.2,721.6 1346.8,695.3 1347.2,679.1 1347.4,659.8 1348.6,643.6 1350.2,622.4 1351.1,607.2 1350.9,587.8 1351.3,572.7 1351.5,552.4 1351.7,537.2 1351.9,518.0 1352.1,501.8 1352.3,482.6 1352.7,467.4 1352.9,448.2 1353.1,432.0 1353.5,412.7 1354.1,397.6 1354.3,378.3 1354.7,363.2 1354.9,343.8 1355.3,328.6 1355.7,309.4 1356.1,293.2 1356.1,274.0 1356.3,258.8 1356.7,239.5 1357.1,223.3 1357.3,204.1 1357.7,188.9 1358.3,161.2" stroke-dasharray="14.6 20.8"/>
<polyline points="1358.3,161.2 1360.9,168.7 1362.3,199.1 1362.9,233.5 1363.7,267.9 1364.3,303.3 1365.3,337.7 1366.1,365.2 1366.6,380.4 1367.0,399.6 1367.2,415.8 1367.6,435.0 1368.0,450.2 1368.2,469.4 1369.0,484.6 1369.6,503.8 1372.2,520.0 1372.6,539.3 1373.2,554.4 1373.6,573.7 1374.2,589.9 1374.7,608.2 1375.7,624.4 1375.7,643.6 1376.3,658.8 1377.7,679.1 1381.7,694.2 1384.4,720.6 1386.4,757.6" stroke-dasharray="14.6 20.8"/>
<polyline points="1386.4,757.6 1388.8,729.7 1390.4,712.5 1391.0,705.4" stroke-dasharray="14.6 20.8"/>
<polyline points="1391.0,705.4 1391.9,721.6 1392.9,749.9 1393.3,757.6" stroke-dasharray="14.6 20.8"/>
<polyline points="1393.3,757.6 1394.5,713.5 1395.1,679.1 1395.5,643.6 1396.1,609.2 1396.3,581.8 1396.9,566.6" stroke-dasharray="14.6 20.8"/>
<polyline points="1396.9,566.6 1398.9,578.7 1400.6,588.8" stroke-dasharray="14.6 20.8"/>
<polyline points="1400.6,588.8 1403.0,557.5" stroke-dasharray="14.6 20.8"/>
<polyline points="1403.0,557.5 1404.6,567.6 1406.6,601.0 1407.0,601.1" stroke-dasharray="14.6 20.8"/>
<polyline points="1407.0,601.1 1408.5,584.8 1410.1,569.6 1411.5,542.3 1412.7,507.9 1413.7,472.5 1414.5,437.0 1415.7,402.6 1416.5,394.9" stroke-dasharray="14.6 20.8"/>
<polyline points="1416.5,394.9 1418.2,397.6 1418.8,412.7 1418.8,432.0 1419.2,447.2 1419.4,466.4 1419.8,481.6 1420.0,500.8 1420.6,517.0 1420.8,536.2 1421.2,551.4 1422.2,570.6 1423.2,585.8 1424.2,605.2 1424.8,621.4 1425.1,640.6 1425.7,656.8 1425.5,675.0 1425.9,691.2 1426.1,710.4 1426.7,725.6 1426.9,744.8 1427.9,761.6" stroke-dasharray="14.6 20.8"/>
<polyline points="1427.9,761.6 1429.3,739.8 1430.5,719.5" stroke-dasharray="14.6 20.8"/>
<polyline points="1430.5,719.5 1432.3,731.7 1433.6,760.0" stroke-dasharray="14.6 20.8"/>
<polyline points="1433.6,760.0 1435.0,723.6 1435.6,689.2 1436.6,654.8 1438.0,616.3 1440.4,596.1 1442.5,587.8 1445.9,569.2" stroke-dasharray="14.6 20.8"/>
<polyline points="1445.9,569.2 1447.1,585.8 1447.7,610.2 1448.5,646.7 1449.5,681.1 1450.6,716.5 1451.2,724.6" stroke-dasharray="14.6 20.8"/>
<polyline points="1451.2,724.6 1453.2,706.4"/>
<polyline points="1453.2,706.4 1454.6,719.5 1457.6,738.8 1458.7,748.3" stroke-dasharray="14.6 20.8"/>
<polyline points="1458.7,748.3 1460.1,719.5 1461.1,691.2 1462.5,658.8 1464.5,624.4 1465.9,594.0 1465.9,588.8 1466.3,562.5 1466.7,546.3 1467.4,528.1 1467.8,511.9 1468.4,493.7 1469.2,477.5 1469.8,459.3 1470.2,442.1" stroke-dasharray="14.6 20.8"/>
<polyline points="1470.2,442.1 1472.2,462.3 1473.2,477.5 1474.2,495.7 1475.0,512.9" stroke-dasharray="14.6 20.8"/>
<polyline points="1475.0,512.9 1476.9,505.9 1477.9,489.7 1480.5,470.4 1481.3,454.8" stroke-dasharray="14.6 20.8"/>
<polyline points="1481.3,454.8 1483.5,473.5 1484.6,489.7 1489.0,502.8 1490.0,519.0 1489.8,538.2 1490.4,553.4 1490.6,572.7 1491.0,588.8 1491.2,608.2 1491.6,623.4 1491.8,642.6 1492.7,657.8 1493.1,667.9" stroke-dasharray="14.6 20.8"/>
<polyline points="1493.1,667.9 1494.5,616.3" stroke-dasharray="14.6 20.8"/>
<polyline points="1494.5,616.3 1495.5,632.5 1497.1,647.7 1498.1,675.0 1499.9,687.2 1500.1,707.4 1501.2,717.1" stroke-dasharray="14.6 20.8"/>
<polyline points="1501.2,717.1 1501.4,650.7 1502.0,616.3 1502.6,582.8 1503.4,554.4 1504.2,539.3 1504.8,512.5" stroke-dasharray="14.6 20.8"/>
<polyline points="1504.8,512.5 1505.8,523.1 1506.2,550.4 1507.4,584.8 1508.4,602.1 1509.9,616.3" stroke-dasharray="14.6 20.8"/>
<polyline points="1509.9,616.3 1511.7,576.7 1512.7,566.2" stroke-dasharray="14.6 20.8"/>
<polyline points="1512.7,566.2 1513.7,580.7 1514.7,608.2 1516.3,642.6 1516.7,649.1" stroke-dasharray="14.6 20.8"/>
<polyline points="1516.7,649.1 1518.0,617.3 1519.4,573.7" stroke-dasharray="14.6 20.8"/>
<polyline points="1519.4,573.7 1521.0,590.9 1522.8,620.4 1525.4,645.7 1526.3,680.1 1527.5,714.5 1528.3,749.9 1529.7,775.2 1530.9,782.7" stroke-dasharray="14.6 20.8"/>
<polyline points="1530.9,782.7 1532.1,774.2"/>
<polyline points="1532.1,774.2 1534.6,792.4 1536.2,794.4" stroke-dasharray="14.6 20.8"/>
<polyline points="1536.2,794.4 1538.0,780.3 1542.0,758.0 1543.7,723.6 1545.7,688.2 1547.9,652.7 1549.9,618.3 1550.9,592.0 1551.8,582.8 1553.2,548.4 1554.8,518.6" stroke-dasharray="14.6 20.8"/>
<polyline points="1554.8,518.6 1556.8,533.2 1558.6,560.5 1559.7,568.2" stroke-dasharray="14.6 20.8"/>
<polyline points="1559.7,568.2 1560.9,558.5 1562.3,549.4" stroke-dasharray="14.6 20.8"/>
<polyline points="1562.3,549.4 1563.9,551.4 1565.5,559.5 1566.5,572.7 1567.7,593.9 1568.4,596.1 1569.8,627.4 1572.0,662.9 1572.6,698.3 1573.4,733.7 1575.2,768.1 1578.1,802.5 1579.1,811.0" stroke-dasharray="14.6 20.8"/>
<polyline points="1579.1,811.0 1580.7,791.4 1582.1,778.2" stroke-dasharray="14.6 20.8"/>
<polyline points="1582.1,778.2 1584.5,784.3"/>
<polyline points="1584.5,784.3 1585.2,769.1 1586.2,749.9 1587.2,734.7 1587.4,714.5 1587.8,699.3 1588.2,680.1 1589.2,664.9 1589.6,644.7 1591.2,630.5 1591.4,610.2 1592.2,596.1 1592.2,575.7 1592.6,560.5 1593.3,540.3 1593.7,525.1 1594.1,505.9 1594.9,489.7 1595.1,471.4 1595.7,455.3 1596.3,436.0 1597.3,420.8 1600.3,396.6" stroke-dasharray="14.6 20.8"/>
<polyline points="1600.3,396.6 1601.3,408.7 1602.0,428.9 1602.8,444.1 1603.0,463.3 1603.8,479.5 1603.8,498.8 1604.2,518.0 1604.4,533.2 1605.0,548.4 1605.2,567.6 1607.4,582.8 1607.8,602.1 1608.4,617.3 1608.8,637.6 1609.4,652.7 1609.9,672.0 1610.9,688.2 1610.7,706.4 1611.5,722.6 1611.9,740.2" stroke-dasharray="14.6 20.8"/>
<polyline points="1611.9,740.2 1612.5,711.4 1613.5,691.2 1614.1,662.9 1617.5,646.7 1620.0,612.3 1621.6,594.0" stroke-dasharray="14.6 20.8"/>
<polyline points="1621.6,594.0 1622.6,605.2 1623.6,626.4 1624.6,641.6 1625.2,660.8 1626.0,676.0 1626.7,695.3 1627.7,709.4" stroke-dasharray="14.6 20.8"/>
<polyline points="1627.7,709.4 1628.7,703.3"/>
<polyline points="1628.7,703.3 1629.7,716.5 1631.1,726.6 1632.7,741.8 1634.7,762.5" stroke-dasharray="14.6 20.8"/>
<polyline points="1634.7,762.5 1637.8,727.6" stroke-dasharray="14.6 20.8"/>
<polyline points="1637.8,727.6 1640.8,739.8"/>
<polyline points="1640.8,739.8 1641.6,711.4 1642.2,675.0 1643.0,638.6 1643.9,604.2 1644.5,570.6" stroke-dasharray="14.6 20.8"/>
<polyline points="1644.5,570.6 1645.9,579.7 1645.5,604.2 1647.9,600.1 1650.5,608.2 1652.2,642.6 1654.0,678.0 1656.4,712.5 1657.4,747.9 1659.0,782.3 1660.0,790.0" stroke-dasharray="14.6 20.8"/>
<polyline points="1660.0,790.0 1662.5,764.1 1664.1,729.7 1665.3,693.2 1666.5,658.8 1670.4,624.4 1671.6,594.0 1671.6,588.8 1673.8,554.4 1676.8,518.0 1679.3,485.6" stroke-dasharray="14.6 20.8"/>
<polyline points="1679.3,485.6 1681.9,496.1 1682.7,524.1 1683.7,532.2 1684.9,556.5" stroke-dasharray="14.6 20.8"/>
<polyline points="1684.9,556.5 1686.0,532.2 1686.8,511.9 1687.6,483.6 1689.4,456.3 1690.8,440.5" stroke-dasharray="14.6 20.8"/>
<polyline points="1690.8,440.5 1692.0,456.3 1693.4,456.3"/>
</g>
<g fill="#000">
<rect x="239" y="74" width="5" height="962"/>
<rect x="216.5" y="1010" width="1704.5" height="4"/>
<rect x="229" y="954.7" width="12" height="4.4"/>
<rect x="216.5" y="899.7" width="24" height="4.4"/>
<rect x="229" y="844.6" width="12" height="4.4"/>
<rect x="216.5" y="789.6" width="24" height="4.4"/>
<rect x="229" y="734.5" width="12" height="4.4"/>
<rect x="216.5" y="679.4" width="24" height="4.4"/>
<rect x="229" y="624.4" width="12" height="4.4"/>
<rect x="216.5" y="569.3" width="24" height="4.4"/>
<rect x="229" y="514.3" width="12" height="4.4"/>
<rect x="216.5" y="459.2" width="24" height="4.4"/>
<rect x="229" y="404.2" width="12" height="4.4"/>
<rect x="216.5" y="349.1" width="24" height="4.4"/>
<rect x="229" y="294.0" width="12" height="4.4"/>
<rect x="216.5" y="239.0" width="24" height="4.4"/>
<rect x="229" y="183.9" width="12" height="4.4"/>
<rect x="216.5" y="128.9" width="24" height="4.4"/>
<rect x="229" y="73.8" width="12" height="4.4"/>
<rect x="359.3" y="1012" width="4" height="12"/>
<rect x="479.1" y="1012" width="4" height="24"/>
<rect x="599.0" y="1012" width="4" height="12"/>
<rect x="718.8" y="1012" width="4" height="24"/>
<rect x="838.6" y="1012" width="4" height="12"/>
<rect x="958.4" y="1012" width="4" height="24"/>
<rect x="1078.2" y="1012" width="4" height="12"/>
<rect x="1198.1" y="1012" width="4" height="24"/>
<rect x="1317.9" y="1012" width="4" height="12"/>
<rect x="1437.7" y="1012" width="4" height="24"/>
<rect x="1557.5" y="1012" width="4" height="12"/>
<rect x="1677.4" y="1012" width="4" height="24"/>
<rect x="1797.2" y="1012" width="4" height="12"/>
<rect x="1917.0" y="1012" width="4" height="24"/>
</g>
<text class="tk" x="197.9" y="1035.0" text-anchor="end">−50</text>
<text class="tk" x="197.9" y="924.9" text-anchor="end">0</text>
<text class="tk" x="197.9" y="814.8" text-anchor="end">50</text>
<text class="tk" x="197.9" y="704.6" text-anchor="end">100</text>
<text class="tk" x="197.9" y="594.5" text-anchor="end">150</text>
<text class="tk" x="197.9" y="484.4" text-anchor="end">200</text>
<text class="tk" x="197.9" y="374.3" text-anchor="end">250</text>
<text class="tk" x="197.9" y="264.2" text-anchor="end">300</text>
<text class="tk" x="197.9" y="154.1" text-anchor="end">350</text>
<text class="tk" x="241.4" y="1104.3" text-anchor="middle">0</text>
<text class="tk" x="481.0" y="1104.3" text-anchor="middle">20</text>
<text class="tk" x="720.7" y="1104.3" text-anchor="middle">40</text>
<text class="tk" x="960.3" y="1104.3" text-anchor="middle">60</text>
<text class="tk" x="1200.0" y="1104.3" text-anchor="middle">80</text>
<text class="tk" x="1439.6" y="1104.3" text-anchor="middle">100</text>
<text class="tk" x="1679.3" y="1104.3" text-anchor="middle">120</text>
<text class="tk" x="1918.9" y="1104.3" text-anchor="middle">140</text>
<text class="ttl" x="1081.3" y="1206.6" text-anchor="middle">Time(s)</text>
<text class="ttl2" transform="translate(79.3,543.6) rotate(-90)" text-anchor="middle">Stress(MPa)</text>
<rect x="1417.6" y="21.9" width="309.1" height="150.7" fill="#fff" stroke="#000" stroke-width="1.7"/>
<line x1="1425" y1="60.5" x2="1544.5" y2="60.5" stroke="#505050" stroke-width="3.2" stroke-linecap="round"/>
<line x1="1425.2" y1="131.3" x2="1544.5" y2="131.3" stroke="#ff0000" stroke-width="3.2" stroke-linecap="round" stroke-dasharray="14.6 20.8"/>
<text class="lg" x="1572.8" y="82.2">26m/s</text>
<text class="lg" x="1572.8" y="153.2">27m/s</text>
</svg>
</body></html>
